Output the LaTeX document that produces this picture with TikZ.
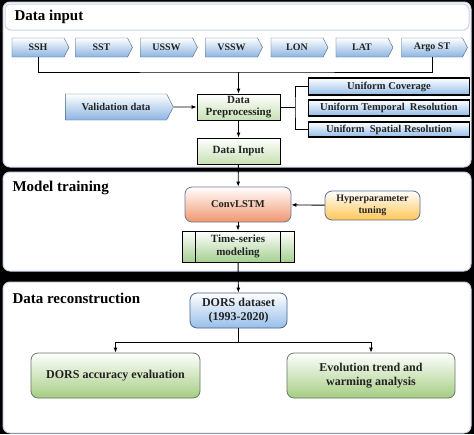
\documentclass[tikz,border=0pt]{standalone}
\usepackage{fontspec}
\setmainfont{Liberation Serif}
\usetikzlibrary{shapes.symbols,arrows.meta,positioning}

\definecolor{panelrim}{RGB}{205,210,232}
\definecolor{inrim}{RGB}{70,100,140}
\definecolor{inblue}{RGB}{140,180,225}
\definecolor{uniblue}{RGB}{145,188,232}
\definecolor{palegreen}{RGB}{200,225,180}
\definecolor{tsgreen}{RGB}{165,208,145}
\definecolor{convrim}{RGB}{110,120,150}
\definecolor{convorange}{RGB}{242,150,110}
\definecolor{hyperrim}{RGB}{90,110,150}
\definecolor{hyperyellow}{RGB}{255,198,85}
\definecolor{dorsblue}{RGB}{150,190,232}
\definecolor{evalgreen}{RGB}{165,205,130}
\definecolor{evalrim}{RGB}{100,120,100}
\definecolor{ink}{RGB}{35,35,35}

\begin{document}
\begin{tikzpicture}[x=1pt, y=-1pt, >={Latex[length=5pt,width=4pt]},
    font=\bfseries\fontsize{10}{11.5}\selectfont, text=ink,
    panel/.style={draw=panelrim, line width=1pt, fill=white, rounded corners=7pt},
    title/.style={font=\bfseries\fontsize{15}{18}\selectfont, anchor=west, text=black},
    inbox/.style={signal, signal to=east, signal pointer angle=125, draw=inrim, top color=white, bottom color=inblue, minimum width=57pt, minimum height=19pt, inner sep=0pt},
    greenbox/.style={draw=black, line width=0.8pt, top color=white, bottom color=palegreen, minimum width=83pt, minimum height=26pt, inner sep=1pt, align=center, font=\bfseries\fontsize{11}{12.5}\selectfont},
    unibox/.style={draw=black, line width=1.2pt, top color=white, bottom color=uniblue, minimum width=161pt, minimum height=16pt, inner sep=0pt, font=\bfseries\fontsize{10.5}{12}\selectfont},
    roundbox/.style={rounded corners=7pt, align=center, inner sep=1pt, line width=0.8pt},
    bigtext/.style={font=\bfseries\fontsize{12}{14.5}\selectfont},
    line/.style={line width=0.9pt},
    arr/.style={line width=0.9pt, ->}]

    % background and panels
    \fill[black] (0,0) rectangle (474,434);
    \useasboundingbox (0,0) rectangle (474,434);
    \draw[panel] (3,2) rectangle (471,167);
    \draw[panelrim, line width=1pt, rounded corners=6pt] (5,4) rectangle (469,30);
    \draw[panel] (3,172) rectangle (471,271);
    \draw[panel] (3,282) rectangle (471,433);

    \node[title] (t1) at (11,17) {Data input};
    \node[title] (t2) at (9,188) {Model training};
    \node[title] (t3) at (9,298) {Data reconstruction};

    % data input
    \node[inbox] (ssh) at (38,47.5) {SSH};
    \node[inbox] (sst) at (101.5,47.5) {SST};
    \node[inbox] (ussw) at (166.5,47.5) {USSW};
    \node[inbox] (vssw) at (231.5,47.5) {VSSW};
    \node[inbox] (lon) at (297,47.5) {LON};
    \node[inbox] (lat) at (362,47.5) {LAT};
    \node[inbox, minimum width=66pt] (argo) at (432,47.5) {Argo ST};

    \node[greenbox] (prep) at (238.5,107) {Data\\Preprocessing};
    \node[inbox, minimum width=108pt, minimum height=26pt, font=\bfseries\fontsize{10.5}{12}\selectfont] (valid) at (116,107) {Validation data};
    \node[greenbox] (datain) at (238.5,151) {Data Input};

    \node[unibox, minimum height=17pt] (cover) at (389,86.5) {Uniform Coverage};
    \node[unibox] (temporal) at (389,108) {Uniform Temporal\ \ Resolution};
    \node[unibox, minimum height=15pt] (spatial) at (389,129.5) {Uniform\ \ Spatial Resolution};

    \coordinate (bus) at (238.5,72);
    \coordinate (fork) at (295,107);
    \draw[line] (ssh.south) |- (bus) -| (argo.south);
    \draw[arr] (bus) -- (prep.north);
    \draw[arr] (valid) -- (prep);
    \draw[line] (prep.east) -- (fork);
    \draw[line] (cover.west) -| (fork) |- (spatial.west);
    \draw[arr] (prep) -- (datain);

    % model training
    \node[roundbox, draw=convrim, top color=white, bottom color=convorange, minimum width=106pt, minimum height=35pt, font=\bfseries\fontsize{10.5}{12}\selectfont] (conv) at (238,204.5) {ConvLSTM};
    \node[roundbox, draw=hyperrim, top color=white, bottom color=hyperyellow, minimum width=95pt, minimum height=29pt] (hyper) at (372.5,205.5) {Hyperparameter\\tuning};
    \node[draw=black, line width=0.8pt, top color=white, bottom color=tsgreen, minimum width=112pt, minimum height=31pt, inner sep=1pt, align=center, font=\bfseries\fontsize{11}{13}\selectfont] (timeser) at (238,246.5) {Time-series\\modeling};
    \draw[line] ([xshift=14pt]timeser.north west) -- ([xshift=14pt]timeser.south west);
    \draw[line] ([xshift=-14pt]timeser.north east) -- ([xshift=-14pt]timeser.south east);

    \draw[arr] (datain) -- (conv);
    \draw[arr] (hyper) -- (conv);
    \draw[arr] (conv) -- (timeser);

    % data reconstruction
    \node[roundbox, bigtext, draw=inrim, top color=white, bottom color=dorsblue, minimum width=97pt, minimum height=35pt] (dors) at (238.5,310.5) {DORS dataset\\(1993-2020)};
    \node[roundbox, bigtext, draw=evalrim, top color=white, bottom color=evalgreen, minimum width=169pt, minimum height=45pt] (acc) at (115.5,375.5) {DORS accuracy\ evaluation};
    \node[roundbox, bigtext, draw=evalrim, top color=white, bottom color=evalgreen, minimum width=168pt, minimum height=45pt] (evo) at (371,375.5) {Evolution\ trend and\\warming analysis};

    \coordinate (split) at (238.5,342);
    \draw[arr] (timeser) -- (dors);
    \draw[line] (dors) -- (split);
    \draw[arr] (split) -| (acc);
    \draw[arr] (split) -| (evo);
\end{tikzpicture}
\end{document}
